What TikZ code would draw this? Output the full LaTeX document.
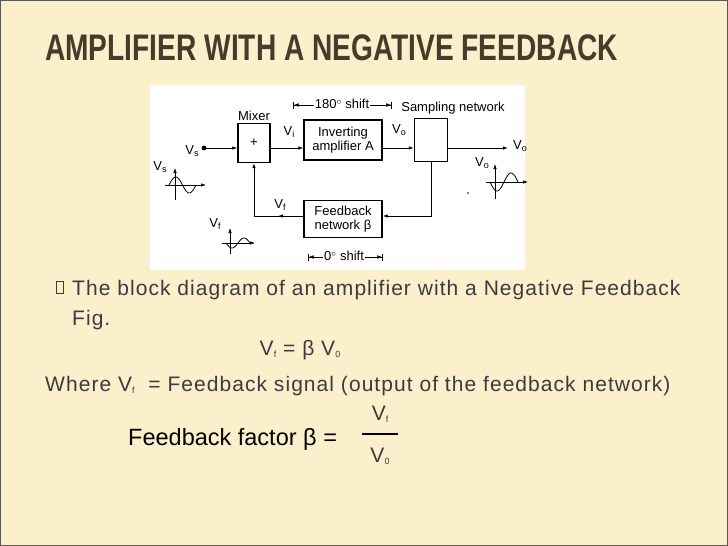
\documentclass[tikz,border=0pt]{standalone}
\usepackage{fontspec}
\setmainfont{Liberation Sans}
\newfontfamily\spaced[LetterSpace=5]{Liberation Sans}
\usetikzlibrary{arrows.meta}
\definecolor{slidebg}{HTML}{FCEFCB}
\definecolor{titlecol}{HTML}{4A3A2A}
\definecolor{bodycol}{HTML}{3C3C3C}
\newcommand{\lo}[1]{\raisebox{-0.25ex}{\fontsize{9}{9}\selectfont #1}}
\newcommand{\dlo}[1]{\raisebox{-0.3ex}{\fontsize{9}{9}\selectfont #1}}
\tikzset{
  blk/.style={draw, line width=1.4pt, inner sep=0pt},
  sig/.style={-{Latex[length=5pt,width=3.5pt]}, line width=0.8pt},
  lbl/.style={font=\fontsize{13}{14}\selectfont, inner sep=1pt},
  body/.style={font=\spaced\fontsize{21}{24}\selectfont, text=bodycol, anchor=base west, inner sep=0pt},
  dim/.style={{Bar[width=7pt]Latex[length=5pt]}-{Latex[length=5pt]Bar[width=7pt]}, line width=0.7pt}
}
\begin{document}
\begin{tikzpicture}[x=1pt,y=-1pt]
\useasboundingbox (0,0) rectangle (728,546);
\fill[slidebg] (0,0) rectangle (728,546);
\draw[gray!70!black] (0.5,0.5) rectangle (727.5,545.5);
% title
\node[anchor=base west, text=titlecol, inner sep=0pt, xscale=0.76,
  font=\bfseries\fontsize{37}{40}\selectfont] (title) at (45,60) {AMPLIFIER WITH A NEGATIVE FEEDBACK};
% diagram panel
\fill[white] (150,85) rectangle (525,270);
\node[blk, minimum width=32pt, minimum height=39pt, lbl] (mix) at (254,143) {+};
\node[blk, minimum width=78pt, minimum height=40pt, align=center, lbl] (amp) at (343,140)
  {Inverting\\amplifier A};
\node[blk, minimum width=33pt, minimum height=43pt] (samp) at (431,140) {};
\node[blk, minimum width=78pt, minimum height=37pt, align=center, lbl] (fb) at (343,219)
  {Feedback\\network β};
\node[lbl, above=1pt] (mixlbl) at (mix.north) {Mixer};
\node[lbl, above=2pt] (samplbl) at ([xshift=22pt]samp.north) {Sampling network};
% signal path
\fill (204,148) circle (2.4pt) coordinate (vs);
\coordinate (out) at (508,148);
\draw[sig] (vs) -- (vs -| mix.west);
\draw[sig] (mix.east |- 0,148) -- (amp.west |- 0,148);
\draw[sig] (amp.east |- 0,148) -- (samp.west |- 0,148);
\draw[sig] (samp.east |- 0,148) -- (out);
\draw[sig] (samp.south) |- (fb.east |- 0,216);
\draw[line width=0.8pt] (fb.west |- 0,216) -- (282,216);
\draw[sig] (fb.west |- 0,216) -- (278,216);
\draw[sig] (282,216) -| (mix.south);
\node[lbl] (vslbl) at (192,151) {V\dlo{s}};
\node[lbl] (vilbl) at (289,132) {V\dlo{i}};
\node[lbl] (volbl) at (399,130) {V\dlo{o}};
\node[lbl] (vout) at (520,146) {V\dlo{o}};
\node[lbl] (vflbl) at (280,205) {V\dlo{f}};
% phase shifts
\draw[dim] (293,105) -- (392,105);
\node[lbl, fill=white] (ph180) at (342,104) {180$^\circ$ shift};
\draw[dim] (308,257) -- (383,257);
\node[lbl, fill=white] (ph0) at (344,256) {0$^\circ$ shift};
\fill (468,193) circle (0.9pt);
% waveforms
\draw[sig, line width=0.6pt] (175,200) -- (175,168);
\draw[sig, line width=0.6pt] (165,185) -- (206,185);
\draw[line width=0.8pt, domain=0:27, samples=40] plot (\x+169,{185-8*sin(\x/27*360)});
\node[lbl] (vsw) at (160,167) {V\dlo{s}};
\draw[sig, line width=0.6pt] (230,254) -- (230,228);
\draw[sig, line width=0.6pt] (222,243) -- (255,243);
\draw[line width=0.8pt, domain=0:24, samples=40] plot (\x+226,{243+5*sin(\x/24*360)});
\node[lbl] (vfw) at (215,224) {V\dlo{f}};
\draw[sig, line width=0.6pt] (495,199) -- (495,164);
\draw[sig, line width=0.6pt] (486,182) -- (528,182);
\draw[line width=0.8pt, domain=0:28, samples=40] plot (\x+490,{182+9*sin(\x/28*360)});
\node[lbl] (vow) at (482,163) {V\dlo{o}};
% text
\draw[bodycol, line width=0.6pt] (56,281) rectangle (63,293);
\node[body] (l1) at (72,295) {The block diagram of an amplifier with a Negative Feedback};
\node[body] (l2) at (72,325) {Fig.};
\node[body, anchor=base] (l3) at (300,355) {V\lo{f} = β V\lo{0}};
\node[body] (l4) at (45,391) {Where V\lo{f}\ \ = Feedback signal (output of the feedback network)};
\node[font=\fontsize{23.5}{26}\selectfont, anchor=base west, inner sep=0pt] (ff) at (128,445) {Feedback factor β =};
\node[body, anchor=base] (num) at (380,420) {V\lo{f}};
\draw[line width=1.2pt] (362,434) -- (398,434);
\node[body, anchor=base] (den) at (380,462) {V\lo{0}};
\end{tikzpicture}
\end{document}
